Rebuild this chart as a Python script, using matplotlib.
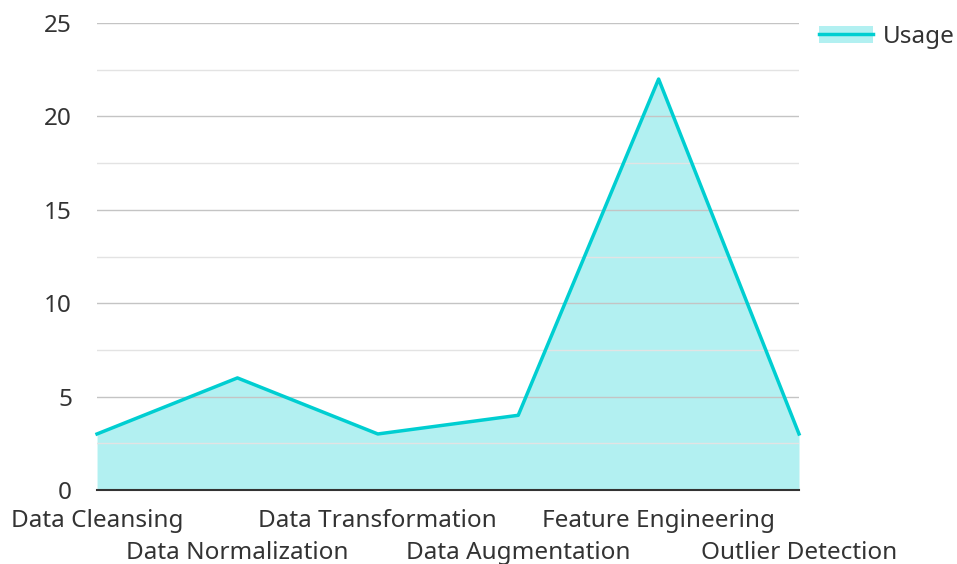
import matplotlib.pyplot as plt
from matplotlib.patches import Patch
from matplotlib.lines import Line2D

plt.rcParams['font.family'] = ['Noto Sans', 'DejaVu Sans']

categories = ['Data Cleansing', 'Data Normalization', 'Data Transformation',
              'Data Augmentation', 'Feature Engineering', 'Outlier Detection']
usage = [3, 6, 3, 4, 22, 3]

line_color = '#00ced1'
text_color = '#333333'
fs = 17.5

fig = plt.figure(figsize=(9.57, 5.64), dpi=100)
ax = fig.add_axes([0.1014, 0.1312, 0.7335, 0.828])

x = list(range(len(categories)))
ax.fill_between(x, usage, 0, color=line_color, alpha=0.3, linewidth=0, zorder=0.3)
ax.plot(x, usage, color=line_color, linewidth=2.5, zorder=2, clip_on=False)

ax.set_xlim(0, len(categories) - 1)
ax.set_ylim(0, 25)
ax.set_yticks([0, 5, 10, 15, 20, 25])
ax.set_yticks([2.5, 7.5, 12.5, 17.5, 22.5], minor=True)
ax.grid(which='major', axis='y', color='#c4c4c4', linewidth=1)
ax.grid(which='minor', axis='y', color='#e3e3e3', linewidth=1)
ax.set_axisbelow(True)
ax.tick_params(axis='y', which='both', length=0, pad=18, labelsize=fs, labelcolor=text_color)

# staggered x labels: even ones on the main axis, odd ones on a lower row
sec = ax.secondary_xaxis('bottom')
ax.set_xticks(x[0::2])
ax.set_xticklabels(categories[0::2], fontsize=fs, color=text_color)
ax.tick_params(axis='x', length=0, pad=13.5)
sec.set_xticks(x[1::2])
sec.set_xticklabels(categories[1::2], fontsize=fs, color=text_color)
sec.tick_params(axis='x', length=0, pad=37)
sec.spines['bottom'].set_visible(False)

for side in ['top', 'right', 'left']:
    ax.spines[side].set_visible(False)
ax.spines['bottom'].set_color(text_color)
ax.spines['bottom'].set_linewidth(1.5)

handle = (Patch(facecolor=line_color, alpha=0.3, edgecolor='none'),
          Line2D([], [], color=line_color, linewidth=2.5))
leg = fig.legend([handle], ['Usage'], loc='upper right', bbox_to_anchor=(1.02, 0.995),
                 frameon=False, fontsize=fs, handlelength=2.2, handletextpad=0.4)
for t in leg.get_texts():
    t.set_color(text_color)

fig.savefig('out.png', dpi=100)
